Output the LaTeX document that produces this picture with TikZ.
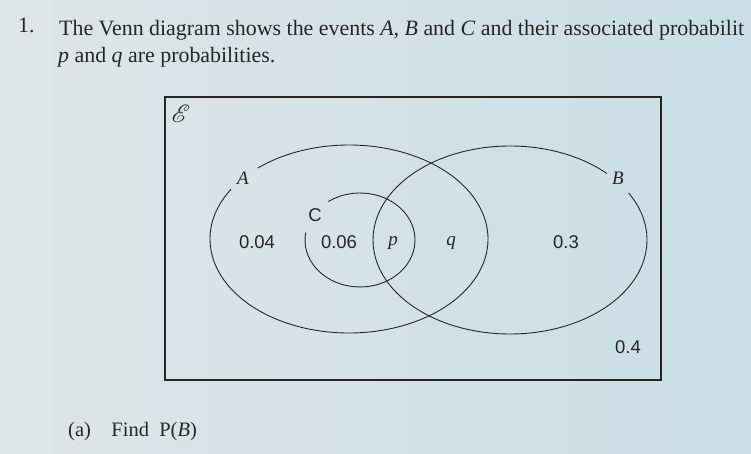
\documentclass[tikz,border=0pt]{standalone}
\usepackage{fontspec}
\usepackage{mathrsfs}
\setmainfont{Liberation Serif}
\newfontfamily\numfont{Liberation Sans}
\definecolor{bgleft}{HTML}{E0E5E6}
\definecolor{bgright}{HTML}{C9DEE6}
\definecolor{ink}{HTML}{262626}
\begin{document}
\begin{tikzpicture}[x=1pt, y=1pt,
  every node/.style = {inner sep=0pt, text=ink},
  set/.style = {draw=ink, line width=0.9pt},
  lbl/.style = {font=\fontsize{19}{19}\selectfont\itshape},
  num/.style = {font=\numfont\fontsize{18.5}{18.5}\selectfont},
  question/.style = {anchor=base west, font=\fontsize{21.9}{21.9}\selectfont}]
  \shade[left color=bgleft, right color=bgright] (0,0) rectangle (751,454);
  \useasboundingbox (0,0) rectangle (751,454);
  % question text
  \node[question] (qnum) at (18,421) {1.};
  \node[question] (qline1) at (59,418)
    {The Venn diagram shows the events \textit{A}, \textit{B} and \textit{C} and their associated probabilit};
  \node[question] (qline2) at (58,391) {\textit{p} and \textit{q} are probabilities.};
  % universal set
  \draw[draw=ink, line width=1.4pt] (165,357) rectangle (661,74);
  \node[font=\fontsize{26}{26}\selectfont] (univ) at (181,340) {$\mathscr{E}$};
  % sets A, B, C
  \draw[set] (349,215) ++(148:139 and 94) arc[start angle=148, end angle=491, x radius=139, y radius=94];
  \draw[set] (510,214) ++(45:137 and 94) arc[start angle=45, end angle=390, x radius=137, y radius=94];
  \draw[set] (360,214) ++(171:55 and 47) arc[start angle=171, end angle=485, x radius=55, y radius=47];
  \node[lbl] (labA) at (243,276) {A};
  \node[lbl] (labB) at (618,276) {B};
  \node[num] (labC) at (315,239) {C};
  % probabilities
  \node[num] (pA) at (257,212) {0.04};
  \node[num] (pC) at (339,212) {0.06};
  \node[lbl] (pp) at (393,211) {p};
  \node[lbl] (pq) at (451,211) {q};
  \node[num] (pB) at (566,212) {0.3};
  \node[num] (pout) at (628,107) {0.4};
  % part (a)
  \node[question, font=\fontsize{20.5}{20.5}\selectfont] (parta) at (68,17)
    {(a)\quad Find\enspace P(\textit{B})};
\end{tikzpicture}
\end{document}
